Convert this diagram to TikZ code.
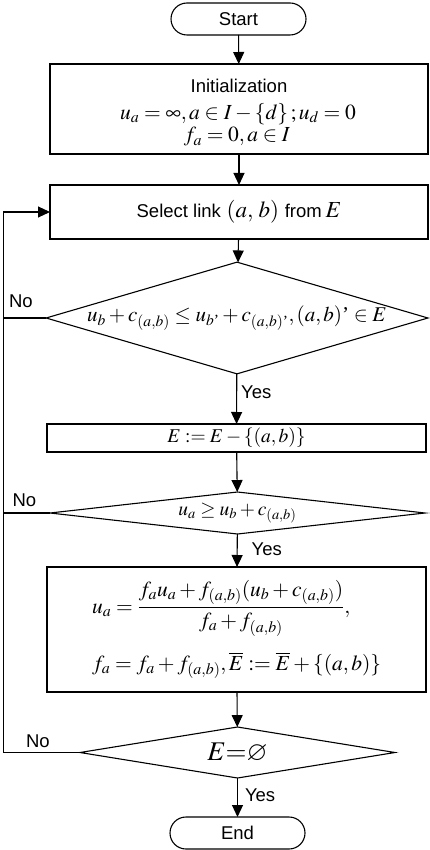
\documentclass[tikz,border=0pt]{standalone}
\usepackage{amsmath}
\usepackage{mathptmx}
\usepackage{amssymb}
\usepackage{fontspec}
\setmainfont{Liberation Serif}
\setsansfont{Liberation Sans}
\usetikzlibrary{arrows.meta,shapes.geometric}
\newcommand\mysizeA{\fontsize{21.5}{26}\selectfont}
\newcommand\mysizeB{\fontsize{21}{26}\selectfont}
\newcommand\mysizeC{\fontsize{23}{28}\selectfont}
\newcommand\mysans{\sffamily\fontsize{18.5}{23}\selectfont}
\tikzset{
  base/.style={draw, line width=1.1pt, inner sep=0pt, outer sep=0pt, align=center,
    font=\mysans},
  term/.style={base, rectangle, rounded corners=16pt, minimum width=135pt, minimum height=32pt},
  proc/.style={base, rectangle},
  dec/.style={base, diamond},
  txt/.style={inner sep=0pt, font=\mysans},
  mtxt/.style={inner sep=0pt, font=\mysizeA},
  arr/.style={line width=1.1pt, -{Triangle[width=11pt,length=12pt]}},
  conn/.style={line width=1.1pt},
  lbl/.style={inner sep=0pt, font=\mysans},
}
\begin{document}
\begin{tikzpicture}[x=1pt,y=-1pt]
\useasboundingbox (0,0) rectangle (430,850);
\node[term] (start) at (238.5,19) {Start};
\node[proc, minimum width=378pt, minimum height=90pt] (init) at (239,109) {};
\node[txt, anchor=base] (initA) at (239,92.7) {Initialization};
\node[mtxt, anchor=base] (initB) at (238,119.3) {$u_a=\infty, a\in I-\{d\}\,; u_d=0$};
\node[mtxt, anchor=base] (initC) at (237,142) {$f_a=0, a\in I$};
\node[proc, minimum width=378pt, minimum height=54pt, font=\mysizeC] (sel) at (239,212)
  {{\mysans Select link} $(a,\,b)$ {\mysans from}\,$E$};
\node[dec, shape aspect=3.418, minimum width=376pt, minimum height=110pt,
      font=\mysizeB] (d1) at (237,318)
  {$u_b+c_{(a,b)}\le u_{b\textrm{'}}+c_{(a,b)\textrm{'}}, (a,b)\textrm{'}\in E$};
\node[proc, minimum width=379pt, minimum height=28pt, font=\fontsize{19.5}{24}\selectfont]
  (boxE) at (236.5,438) {$E:=E-\{(a,b)\}$};
\node[dec, shape aspect=8.93, minimum width=375pt, minimum height=42pt,
      font=\fontsize{19.5}{24}\selectfont] (d2) at (237.5,513)
  {$u_a\ge u_b+c_{(a,b)}$};
\node[proc, minimum width=379pt, minimum height=125pt] (box3) at (236.5,629.5) {};
\node[mtxt, anchor=base west] (b3A) at (92,613)
  {$u_a=\dfrac{f_a u_a+f_{(a,b)}(u_b+c_{(a,b)})}{f_a+f_{(a,b)}},$};
\node[mtxt, anchor=base west] (b3B) at (92,670)
  {$f_a=f_a+f_{(a,b)}, \overline{E}:=\overline{E}+\{(a,b)\}$};
\node[dec, shape aspect=6.18, minimum width=315pt, minimum height=51pt,
      font=\fontsize{27}{30}\selectfont] (d3) at (237.5,752.5)
  {$E{=}\varnothing$};
\node[term] (end) at (237.5,833) {End};
\coordinate (fb) at (3.5,0);
\draw[arr] (start) -- (init);
\draw[arr] (init) -- (sel);
\draw[arr] (sel) -- (d1);
\draw[arr] (d1) -- node[lbl, pos=0.37, anchor=west, xshift=4pt] {Yes} (boxE);
\draw[arr] (boxE) -- (d2);
\draw[arr] (d2) -- node[lbl, pos=0.47, anchor=west, xshift=14pt] {Yes} (box3);
\draw[arr] (box3) -- (d3);
\draw[arr] (d3) -- node[lbl, pos=0.44, anchor=west, xshift=7pt] {Yes} (end);
\draw[conn] (d1.west) -- node[lbl, pos=0.59, anchor=south, yshift=10pt] {No} (d1.west -| fb);
\draw[conn] (d2.west) -- node[lbl, pos=0.55, anchor=south, yshift=6pt] {No} (d2.west -| fb);
\draw[arr] (d3.west) -- node[lbl, pos=0.55, anchor=south, yshift=4pt] {No} (d3.west -| fb)
  -- (sel.west -| fb) -- (sel.west);
\end{tikzpicture}
\end{document}
